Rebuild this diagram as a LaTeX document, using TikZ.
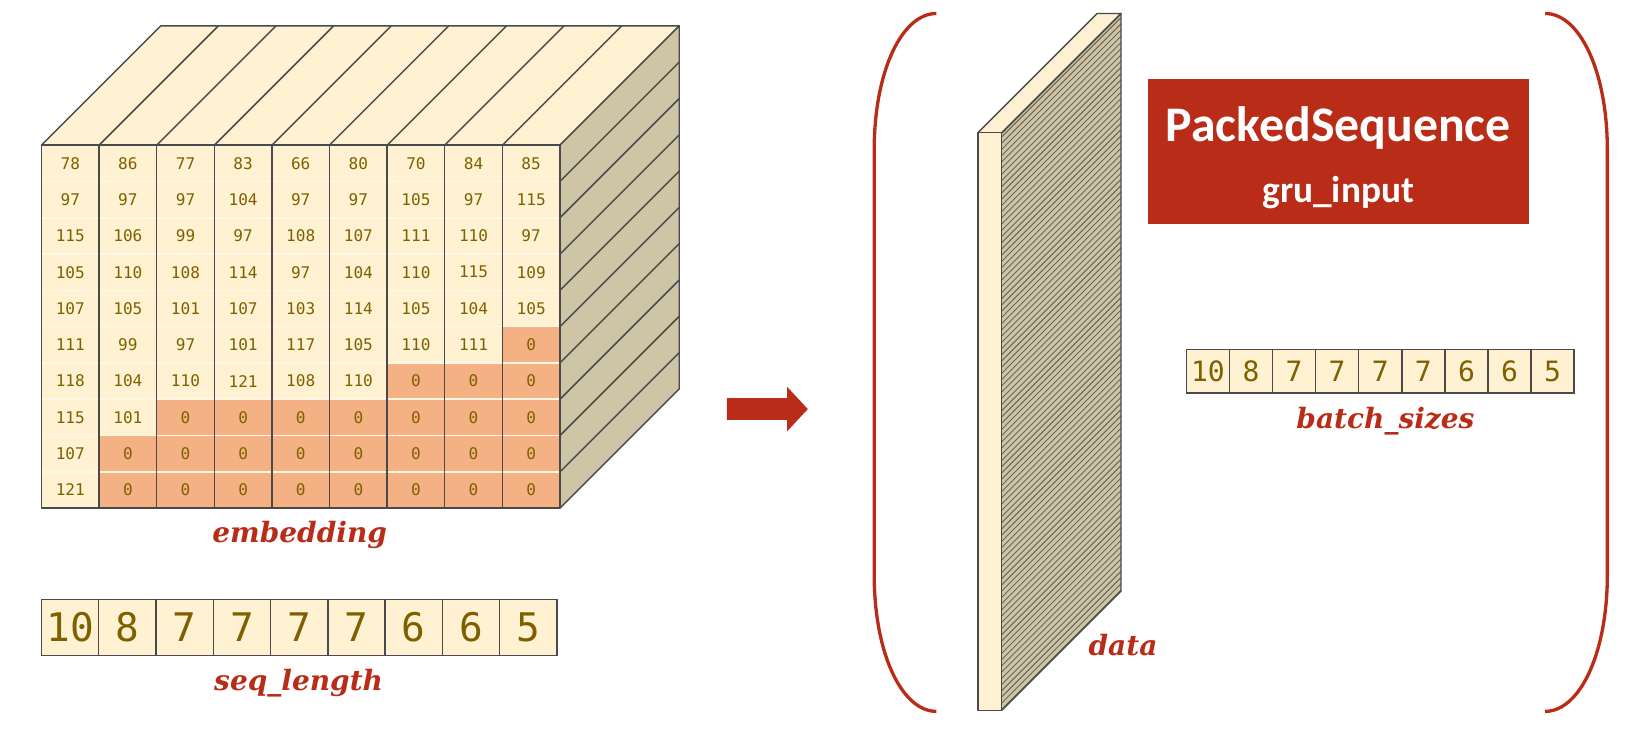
\documentclass[tikz,border=0pt]{standalone}
\usepackage{fontspec}
\newfontfamily\numfont{DejaVu Sans Mono}
\newfontfamily\boxfont{Carlito}
\newfontfamily\lblfont{DejaVu Serif}
\definecolor{cream}{HTML}{FFF2D2}
\definecolor{tanface}{HTML}{CEC4A6}
\definecolor{padcell}{HTML}{F4B183}
\definecolor{numcol}{HTML}{7F6000}
\definecolor{accent}{HTML}{B82C18}
\definecolor{edgecol}{HTML}{4A4A4A}
\definecolor{sepcol}{HTML}{FFF6E4}
\definecolor{hatchcol}{HTML}{6A665C}
\tikzset{
  edge/.style={draw=edgecol, line width=1.4pt, line join=round},
  cell/.style={inner sep=0pt, minimum width=55.556pt, minimum height=35pt, text=numcol, font=\numfont\fontsize{15.5}{15.5}\selectfont},
  lencell/.style={draw=edgecol, line width=1.4pt, fill=cream, inner sep=0pt, minimum width=55.22pt, minimum height=54pt, text=numcol, font=\numfont\fontsize{38}{38}\selectfont},
  bcell/.style={draw=edgecol, line width=1.4pt, fill=cream, inner sep=0pt, minimum width=41.56pt, minimum height=42pt, text=numcol, font=\numfont\fontsize{27}{27}\selectfont},
  lbl/.style={text=accent, inner sep=0pt, font=\lblfont\fontsize{27}{27}\selectfont\bfseries\itshape},
  paren/.style={draw=accent, line width=3.2pt},
}
\begin{document}
\begin{tikzpicture}[x=1pt,y=-1pt]
\useasboundingbox (0,0) rectangle (1568,704);

% ---- cube: top and right faces
\filldraw[fill=cream, edge] (40,140) -- (155,25) -- (655,25) -- (540,140) -- cycle;
\foreach \k in {1,...,8} \draw[edge] ({40+\k*500/9},140) -- ++(115,-115);
\filldraw[fill=tanface, edge] (540,140) -- (655,25) -- (655,375) -- (540,490) -- cycle;
\foreach \k in {1,...,9} \draw[edge] (540,{140+35*\k}) -- ++(115,-115);

% ---- cube: front face cells
\foreach \rowvals [count=\ri] in {{78,86,77,83,66,80,70,84,85},{97,97,97,104,97,97,105,97,115},{115,106,99,97,108,107,111,110,97},{105,110,108,114,97,104,110,115,109},{107,105,101,107,103,114,105,104,105},{111,99,97,101,117,105,110,111,0},{118,104,110,121,108,110,0,0,0},{115,101,0,0,0,0,0,0,0},{107,0,0,0,0,0,0,0,0},{121,0,0,0,0,0,0,0,0}}{
  \foreach \v [count=\ci] in \rowvals {
    \ifnum\v=0 \def\cf{padcell}\else\def\cf{cream}\fi
    \node[cell, fill=\cf] (e\ri-\ci) at ({40+(\ci-0.5)*500/9},{140+(\ri-0.5)*35}) {\v};
  }
}
\foreach \k in {1,...,9} \draw[sepcol, line width=1.6pt] (40,{140+35*\k}) -- (540,{140+35*\k});
\foreach \k in {1,...,8} \draw[edge] ({40+\k*500/9},140) -- ({40+\k*500/9},490);
\draw[edge] (40,140) rectangle (540,490);
\node[lbl] (embedding) at (289,516) {embedding};

% ---- seq_length
\foreach \v [count=\ci] in {10,8,7,7,7,7,6,6,5}
  \node[lencell] (s\ci) at ({40+(\ci-0.5)*55.22},605) {\v};
\node[lbl] (seqlabel) at (288,659) {seq\_length};

% ---- arrow
\fill[accent] (701,384) -- (759,384) -- (759,373) -- (779,394.5) -- (759,416) -- (759,405) -- (701,405) -- cycle;

% ---- parentheses
\draw[paren] (903,13) .. controls (870,13) and (843,68) .. (843,145) -- (843,554) .. controls (843,631) and (870,686) .. (903,686);
\draw[paren] (1490,13) .. controls (1523,13) and (1550,68) .. (1550,145) -- (1550,554) .. controls (1550,631) and (1523,686) .. (1490,686);

% ---- data slab
\begin{scope}
  \clip (966,128) -- (1081,13) -- (1081,570) -- (966,685) -- cycle;
  \fill[tanface] (960,0) rectangle (1090,700);
  \foreach \cc in {1092,1098,...,1656} \draw[hatchcol, line width=0.9pt] (966,\cc-966) -- (1081,\cc-1081);
\end{scope}
\draw[edge] (966,128) -- (1081,13) -- (1081,570) -- (966,685);
\filldraw[fill=cream, edge] (943,128) -- (1058,13) -- (1081,13) -- (966,128) -- cycle;
\filldraw[fill=cream, edge] (943,128) rectangle (966,685);
\node[lbl] (datalabel) at (1083,622) {data};

% ---- PackedSequence box
\node[fill=accent, minimum width=367pt, minimum height=140pt, inner sep=0pt] (psbox) at (1290.5,146) {};
\node[text=white, font=\boxfont\bfseries\fontsize{48}{48}\selectfont, inner sep=0pt] (pstitle) at (1290.5,123) {PackedSequence};
\node[text=white, font=\boxfont\bfseries\fontsize{36}{36}\selectfont, inner sep=0pt] (psname) at (1290.5,186) {gru\_input};

% ---- batch_sizes
\foreach \v [count=\ci] in {10,8,7,7,7,7,6,6,5}
  \node[bcell] (b\ci) at ({1144+(\ci-0.5)*41.56},358) {\v};
\node[lbl] (batchlabel) at (1336,406) {batch\_sizes};
\end{tikzpicture}
\end{document}
